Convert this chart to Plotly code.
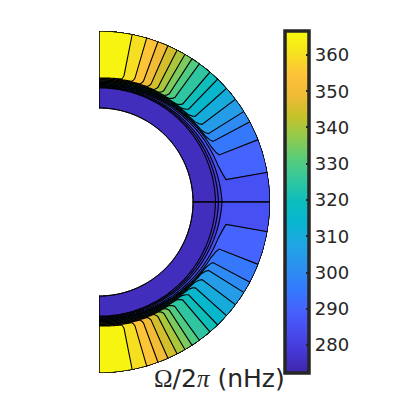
import numpy as np
import plotly.graph_objects as go

# Rotation rate bands (nHz), from the polar surface band down to the deep tachocline
band_values = [365, 360, 355, 350, 345, 340, 335, 330, 325, 320, 315, 310, 305, 300, 295, 290, 285, 280, 277]
core_value = 275
# Colatitude (deg) where the outer edge of each band meets the surface
surface_colat = [11.2, 16.2, 20.2, 23.8, 27.2, 30.2, 33.0, 36.0, 40.5, 44.0, 48.3, 53.0, 58.0, 62.0, 68.6, 80.0, 90.0, 90.0, 90.0]
# Radius of each contour at the pole inside the tachocline
pole_radius = [124.0, 123.5, 122.9, 122.4, 121.8, 121.3, 120.7, 120.2, 119.6, 119.1, 118.5, 118.0, 117.4, 116.9, 116.3, 115.8, 115.2, 114.7, 114.1]
# Radius at which each contour enters the tachocline
bend_radius = [125.0, 125.0, 125.0, 125.0, 125.0, 125.0, 125.0, 125.0, 125.0, 125.0, 125.0, 125.0, 125.0, 125.0, 125.0, 124.5, 123.0, 119.5, 116.5]
# Colatitude span (deg) of the kink between the radial part and the tachocline
bend_span = [0.8, 1.0, 1.0, 1.2, 1.2, 1.5, 1.5, 2.0, 2.0, 2.5, 2.5, 3.0, 3.0, 4.0, 5.0, 7.0, 0.0, 0.0, 0.0]

R_CORE, R_SURF = 94, 171
CBAR_TICKS = [280, 290, 300, 310, 320, 330, 340, 350, 360]
C_MIN, C_MAX = 272.3, 366.6

parula = [
    (0.2422, 0.1504, 0.6603), (0.2706, 0.2147, 0.8364), (0.2813, 0.3006, 0.9414),
    (0.2699, 0.3892, 0.9906), (0.1963, 0.4847, 0.9892), (0.1687, 0.5703, 0.9359),
    (0.1248, 0.6459, 0.8883), (0.0297, 0.7082, 0.8163), (0.0433, 0.7411, 0.7394),
    (0.1938, 0.7758, 0.6251), (0.3406, 0.8008, 0.4789), (0.5616, 0.7942, 0.3045),
    (0.7738, 0.7598, 0.1646), (0.9393, 0.7288, 0.2100), (0.9970, 0.7659, 0.2199),
    (0.9598, 0.8905, 0.1157), (0.9763, 0.9831, 0.0538),
]
to_rgb = lambda c: "rgb(%d,%d,%d)" % tuple(round(v * 255) for v in c)
colorscale = [[i / (len(parula) - 1), to_rgb(c)] for i, c in enumerate(parula)]


def color_of(v):
    t = np.clip((v - C_MIN) / (C_MAX - C_MIN), 0, 1) * (len(parula) - 1)
    i = min(int(t), len(parula) - 2)
    f = t - i
    return to_rgb(tuple(a + (b - a) * f for a, b in zip(parula[i], parula[i + 1])))


def region(k):
    th = surface_colat[k]
    arc = np.linspace(0, th, 40)
    span = bend_span[k]
    if th < 90:
        head_r, head_c = [R_SURF, 129, 127], [th, th, th - 0.35 * span]
    else:
        head_r, head_c = [R_SURF], [90]
    start = th - span
    tach = np.linspace(start, 0, 60)
    rt = pole_radius[k] + (bend_radius[k] - pole_radius[k]) * (tach / start) ** 1.5
    r = np.r_[np.full(40, R_SURF), head_r, rt, R_SURF]
    c = np.r_[arc, head_c, tach, 0]
    return r, c


def add_polygon(fig, r, colat, color, width):
    for to_theta in (lambda x: 90 - x, lambda x: x - 90):
        fig.add_trace(go.Scatterpolar(r=r, theta=to_theta(colat), mode="lines", fill="toself",
                                      fillcolor=color, line=dict(color="black", width=width),
                                      hoverinfo="skip", showlegend=False))


fig = go.Figure()
whole = np.linspace(0, 90, 120)
add_polygon(fig, np.r_[np.full(120, R_SURF), np.full(120, R_CORE), R_SURF],
            np.r_[whole, whole[::-1], 0], color_of(core_value), 1.0)
for k in range(len(surface_colat) - 1, -1, -1):
    r, c = region(k)
    add_polygon(fig, r, c, color_of(band_values[k]), 1.1)

# seam along the equator
fig.add_trace(go.Scatterpolar(r=[R_CORE, R_SURF], theta=[0, 0], mode="lines",
                              line=dict(color="black", width=0.8), hoverinfo="skip", showlegend=False))
# outline of the shell on top of all bands
for sign in (1, -1):
    for rad in (R_SURF, R_CORE):
        fig.add_trace(go.Scatterpolar(r=np.full(120, rad), theta=sign * (90 - whole), mode="lines",
                                      line=dict(color="black", width=1), hoverinfo="skip", showlegend=False))
    fig.add_trace(go.Scatterpolar(r=[R_CORE, R_SURF], theta=[sign * 90, sign * 90], mode="lines",
                                  line=dict(color="black", width=1), hoverinfo="skip", showlegend=False))

# colour scale
fig.add_trace(go.Scatterpolar(
    r=[R_CORE] * len(band_values), theta=[0] * len(band_values), mode="markers", hoverinfo="skip", showlegend=False,
    marker=dict(size=0.1, color=band_values, colorscale=colorscale, cmin=C_MIN, cmax=C_MAX, showscale=True,
                colorbar=dict(x=277 / 420, xanchor="left", y=(420 - 194) / 420, yanchor="middle",
                              lenmode="pixels", len=342, thicknessmode="pixels", thickness=24,
                              xpad=0, ypad=0, outlinecolor="#262626", outlinewidth=3.5,
                              ticks="inside", ticklen=4, tickwidth=1.5, tickcolor="#262626",
                              tickvals=CBAR_TICKS, tickprefix="\u2002",
                              tickfont=dict(family="DejaVu Sans", size=18, color="#262626"))),
))

fig.update_layout(
    width=420, height=420, margin=dict(l=0, r=0, t=0, b=0), paper_bgcolor="white", showlegend=False,
    polar=dict(domain=dict(x=[91 / 420, 262 / 420], y=[55 / 420, 397 / 420]), sector=[-90, 90],
               bgcolor="white",
               radialaxis=dict(range=[0, R_SURF], visible=False),
               angularaxis=dict(visible=False)),
    annotations=[dict(
        x=144 / 420, y=(420 - 370) / 420, xref="paper", yref="paper", xanchor="left", yanchor="middle", showarrow=False,
        text='<span style="font-family:Liberation Serif">\u03a9</span>/2<span style="font-family:Liberation Serif;font-style:italic">\u03c0</span> (nHz)',
        font=dict(family="DejaVu Sans", size=25, color="#262626"))],
)
fig.write_html("out.html")
